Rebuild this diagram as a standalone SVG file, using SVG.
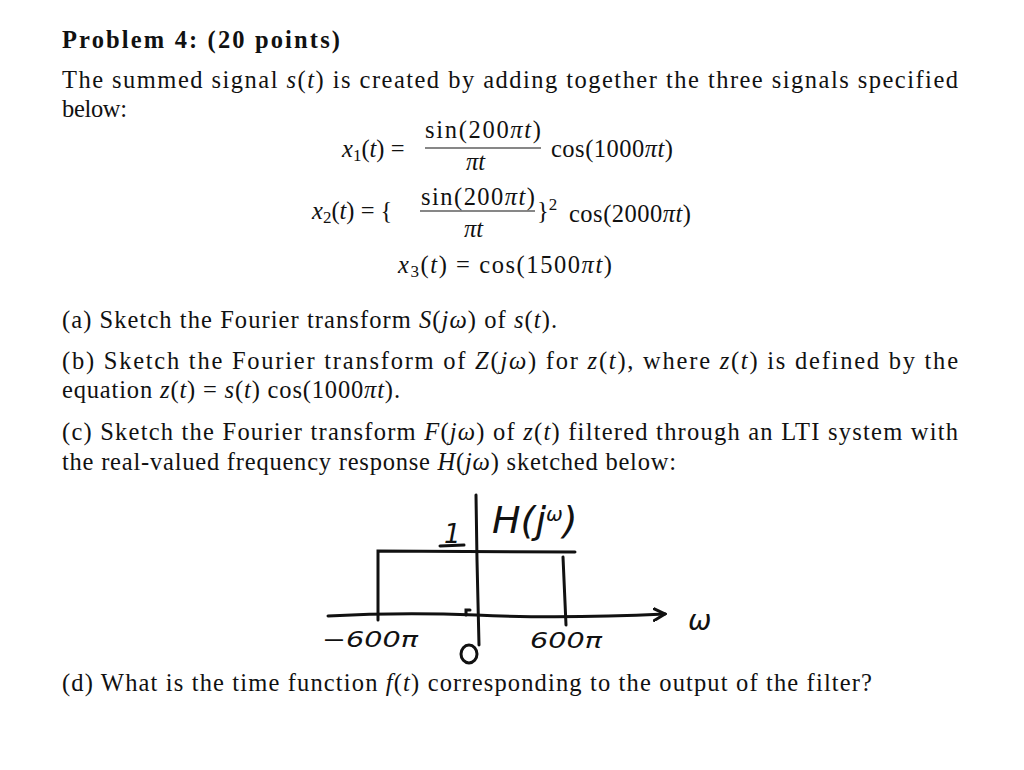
<svg xmlns="http://www.w3.org/2000/svg" width="1024" height="770" viewBox="0 0 1024 770">
<style>
text{font-family:"Liberation Serif","DejaVu Serif",serif;font-size:24.5px;fill:#111}
.i{font-style:italic}
.h{font-family:"DejaVu Sans",sans-serif;font-style:italic}
.s{stroke:#111;stroke-width:3;fill:none;stroke-linecap:round}
.f{stroke:#111;stroke-width:1.2}
</style>
<defs><marker id="a" markerWidth="14" markerHeight="14" refX="12" refY="7" orient="auto" markerUnits="userSpaceOnUse"><path d="M1,1 L12,7 L1,13" class="s" stroke-width="2.5"/></marker></defs>
<rect width="1024" height="770" fill="#fff"/>
<text x="62" y="48" font-weight="bold" textLength="278" lengthAdjust="spacing">Problem 4:  (20 points)</text>
<text x="62" y="88" textLength="896" lengthAdjust="spacing">The summed signal <tspan class="i">s</tspan>(<tspan class="i">t</tspan>) is created by adding together the three signals specified</text>
<text x="62" y="117" textLength="65" lengthAdjust="spacing">below:</text>
<text x="342" y="157"><tspan class="i">x</tspan><tspan font-size="17" dy="4">1</tspan><tspan dy="-4">(</tspan><tspan class="i">t</tspan>) =</text>
<text x="425" y="138" textLength="116" lengthAdjust="spacing">sin(200<tspan class="i">πt</tspan>)</text>
<line class="f" x1="425" y1="148" x2="541" y2="148"/>
<text x="466" y="170" class="i">πt</text>
<text x="551" y="157" textLength="122" lengthAdjust="spacing">cos(1000<tspan class="i">πt</tspan>)</text>
<text x="312" y="219"><tspan class="i">x</tspan><tspan font-size="17" dy="4">2</tspan><tspan dy="-4">(</tspan><tspan class="i">t</tspan>) = {</text>
<text x="421" y="205" textLength="114" lengthAdjust="spacing">sin(200<tspan class="i">πt</tspan>)</text>
<line class="f" x1="420" y1="211" x2="535" y2="211"/>
<text x="464" y="237" class="i">πt</text>
<text x="537" y="219">}<tspan font-size="17" dy="-9">2</tspan></text>
<text x="569" y="222" textLength="122" lengthAdjust="spacing">cos(2000<tspan class="i">πt</tspan>)</text>
<text x="398" y="273" textLength="214" lengthAdjust="spacing"><tspan class="i">x</tspan><tspan font-size="17" dy="4">3</tspan><tspan dy="-4">(</tspan><tspan class="i">t</tspan>) = cos(1500<tspan class="i">πt</tspan>)</text>
<text x="62" y="328" textLength="495" lengthAdjust="spacing">(a) Sketch the Fourier transform <tspan class="i">S</tspan>(<tspan class="i">jω</tspan>) of <tspan class="i">s</tspan>(<tspan class="i">t</tspan>).</text>
<text x="62" y="369" textLength="896" lengthAdjust="spacing">(b) Sketch the Fourier transform of <tspan class="i">Z</tspan>(<tspan class="i">jω</tspan>) for <tspan class="i">z</tspan>(<tspan class="i">t</tspan>), where <tspan class="i">z</tspan>(<tspan class="i">t</tspan>) is defined by the</text>
<text x="62" y="398" textLength="338" lengthAdjust="spacing">equation <tspan class="i">z</tspan>(<tspan class="i">t</tspan>) = <tspan class="i">s</tspan>(<tspan class="i">t</tspan>) cos(1000<tspan class="i">πt</tspan>).</text>
<text x="62" y="440" textLength="896" lengthAdjust="spacing">(c) Sketch the Fourier transform <tspan class="i">F</tspan>(<tspan class="i">jω</tspan>) of <tspan class="i">z</tspan>(<tspan class="i">t</tspan>) filtered through an LTI system with</text>
<text x="62" y="470" textLength="614" lengthAdjust="spacing">the real-valued frequency response <tspan class="i">H</tspan>(<tspan class="i">jω</tspan>) sketched below:</text>
<g id="sketch">
<path class="s" d="M476,495 L477,560 L479,645"/>
<path class="s" d="M328,616 Q400,612 476,615 Q560,619 665,614" marker-end="url(#a)"/>
<path class="s" d="M378,620 L378,551 L575,552"/>
<path class="s" d="M563,557 L566,625"/>
<path class="s" stroke-width="2" d="M466,615 L466,610 L470,610"/>
<text x="444" y="543" class="h" style="font-size:26px">1</text>
<line class="s" stroke-width="2.5" x1="440" y1="546" x2="464" y2="545"/>
<text x="492" y="533" class="h" style="font-size:38px">H(j<tspan style="font-size:20px" dy="-12">ω</tspan><tspan dy="12">)</tspan></text>
<text x="322" y="647" class="h" style="font-size:22px" textLength="96" lengthAdjust="spacingAndGlyphs">−600π</text>
<ellipse cx="469" cy="654" rx="8" ry="9" class="s" stroke-width="2.5"/>
<text x="530" y="648" class="h" style="font-size:22px" textLength="72" lengthAdjust="spacingAndGlyphs">600π</text>
<text x="688" y="630" class="h" style="font-size:28px">ω</text>
</g>
<text x="62" y="691" textLength="810" lengthAdjust="spacing">(d) What is the time function <tspan class="i">f</tspan>(<tspan class="i">t</tspan>) corresponding to the output of the filter?</text>
</svg>
